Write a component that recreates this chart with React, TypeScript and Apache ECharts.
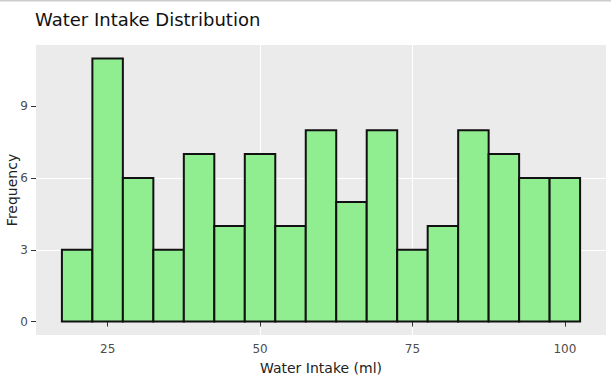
import React, { useEffect, useRef } from "react";
import * as echarts from "echarts";

const binLower = [17.5, 22.5, 27.5, 32.5, 37.5, 42.5, 47.5, 52.5, 57.5, 62.5, 67.5, 72.5, 77.5, 82.5, 87.5, 92.5, 97.5];
const binUpper = [22.5, 27.5, 32.5, 37.5, 42.5, 47.5, 52.5, 57.5, 62.5, 67.5, 72.5, 77.5, 82.5, 87.5, 92.5, 97.5, 102.5];
const counts = [3, 11, 6, 3, 7, 4, 7, 4, 8, 5, 8, 3, 4, 8, 7, 6, 6];
const xTicks = [25, 50, 75, 100];
const yTicks = [0, 3, 6, 9];

const FONT = "'DejaVu Sans', Verdana, sans-serif";

export default function App() {
  const ref = useRef<HTMLDivElement>(null);
  useEffect(() => {
    document.body.style.margin = "0";
    if (!ref.current) return;
    const chart = echarts.init(ref.current, undefined, { renderer: "svg" });
    const data = binLower.map((lo, i) => [lo, binUpper[i], counts[i]]);
    chart.setOption({
      animation: false,
      backgroundColor: "#ffffff",
      textStyle: { fontFamily: FONT },
      title: {
        text: "Water Intake Distribution",
        left: 30,
        top: 5,
        textStyle: { fontFamily: FONT, fontSize: 18, fontWeight: "normal", color: "#111" },
      },
      graphic: [
        { type: "rect", left: 0, top: 0, shape: { width: 611, height: 1.5 }, style: { fill: "#cccccc" }, silent: true },
      ],
      grid: {
        left: 36,
        right: 5,
        top: 45,
        bottom: 40,
        show: true,
        backgroundColor: "#EBEBEB",
        borderWidth: 0,
        containLabel: false,
        outerBoundsMode: "none",
      },
      xAxis: {
        type: "value",
        min: 13.25,
        max: 106.75,
        minInterval: 25,
        maxInterval: 25,
        name: "Water Intake (ml)",
        nameLocation: "middle",
        nameGap: 26,
        nameMoveOverlap: false,
        nameTextStyle: { fontFamily: FONT, fontSize: 14, color: "#222" },
        axisLine: { show: false },
        axisTick: { show: true, length: 5, customValues: xTicks, lineStyle: { color: "#333", width: 1 } },
        axisLabel: {
          customValues: xTicks,
          margin: 8,
          fontFamily: FONT,
          fontSize: 12,
          color: "#4d4d4d",
          formatter: (v: number) => (xTicks.includes(v) ? String(v) : ""),
        },
        splitLine: { show: true, showMinLine: false, showMaxLine: false, lineStyle: { color: "#ffffff", width: 1 } },
      },
      yAxis: {
        type: "value",
        min: -0.56,
        max: 11.56,
        minInterval: 3,
        maxInterval: 3,
        name: "Frequency",
        nameLocation: "middle",
        nameGap: 17,
        nameMoveOverlap: false,
        nameTextStyle: { fontFamily: FONT, fontSize: 14, color: "#222" },
        axisLine: { show: false },
        axisTick: { show: true, length: 5, customValues: yTicks, lineStyle: { color: "#333", width: 1 } },
        axisLabel: {
          customValues: yTicks,
          margin: 8,
          fontFamily: FONT,
          fontSize: 12,
          color: "#4d4d4d",
          formatter: (v: number) => (yTicks.includes(v) ? String(v) : ""),
        },
        splitLine: { show: true, showMinLine: false, showMaxLine: false, lineStyle: { color: "#ffffff", width: 1 } },
      },
      series: [
        {
          type: "custom",
          encode: { x: [0, 1], y: 2 },
          data,
          renderItem: (_params: any, api: any) => {
            const x0 = api.value(0);
            const x1 = api.value(1);
            const y = api.value(2);
            const p0 = api.coord([x0, y]);
            const p1 = api.coord([x1, 0]);
            return {
              type: "rect",
              shape: { x: p0[0], y: p0[1], width: p1[0] - p0[0], height: p1[1] - p0[1] },
              style: { fill: "#90EE90", stroke: "#111", lineWidth: 2 },
            };
          },
        },
      ],
    });
    return () => chart.dispose();
  }, []);
  return <div ref={ref} style={{ position: "absolute", left: 0, top: 0, width: 611, height: 375 }} />;
}
